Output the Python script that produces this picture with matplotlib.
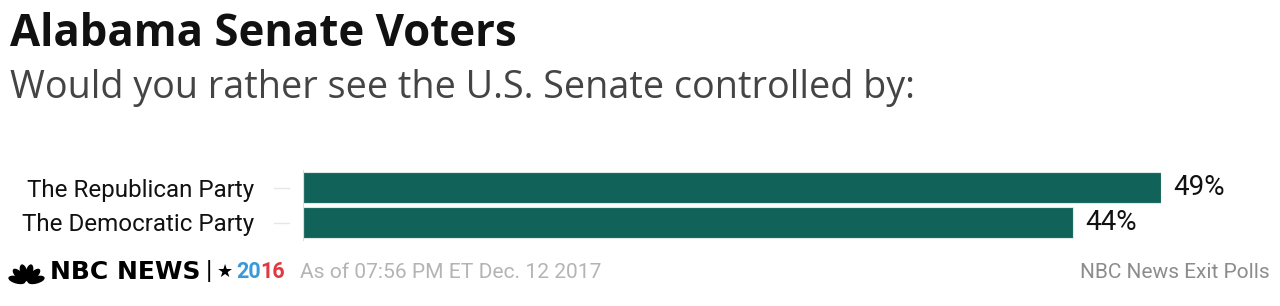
import numpy as np
import matplotlib.pyplot as plt
from matplotlib.patches import Ellipse

# Data
categories = ["The Republican Party", "The Democratic Party"]
values = [49, 44]
title = "Alabama Senate Voters"
subtitle = "Would you rather see the U.S. Senate controlled by:"
bar_color = "#11635a"

fig = plt.figure(figsize=(12.8, 3.06), dpi=100)

# bar axes: x 303..1161 px for 0..49, y 170..240 px
ax = fig.add_axes([303 / 1280, 1 - 240 / 306, 858 / 1280, 70 / 306])
ypos = list(range(len(categories)))
ax.barh(ypos, values, height=0.91, color=bar_color, edgecolor="#dfe9e7", linewidth=0.8)
ax.set_xlim(0, 49)
ax.set_ylim(len(categories) - 0.5, -0.5)
ax.set_yticks(ypos)
ax.set_yticklabels(categories, fontsize=17.4, family="Roboto", color="#111111")
ax.tick_params(axis="y", length=0, pad=35)
# short detached tick marks
for y in ypos:
    ax.plot([-29 / 858 * 49, -14 / 858 * 49], [y, y], color="#e6e6e6", lw=1,
            clip_on=False)
ax.set_xticks([])
for s in ["top", "right", "bottom"]:
    ax.spines[s].set_visible(False)
ax.spines["left"].set_color("#dddddd")
for y, v in zip(ypos, values):
    ax.text(v + 0.7, y, f"{v}%", va="center", ha="left", fontsize=20,
            family="Roboto", color="#111111")

# titles
fig.text(10 / 1280, 1 - 35 / 306, title, fontsize=31.5, fontweight="bold",
         va="center", ha="left", family="Open Sans", color="#111111")
fig.text(10 / 1280, 1 - 88 / 306, subtitle, fontsize=27.2, va="center", ha="left",
         family="Open Sans", color="#444444")

# footer
fy = 1 - 272 / 306
base = np.array([0.265, 0.235])
for ang in [165, 135, 105, 75, 45, 15]:
    r = np.deg2rad(ang)
    c = base + 0.10 * np.array([np.cos(r), np.sin(r)])
    fig.patches.append(Ellipse(tuple(c), 0.16, 0.06, angle=ang, color="black",
                               transform=fig.dpi_scale_trans))
fig.text(50 / 1280, fy, "NBC NEWS", fontsize=18, fontweight="bold", va="center",
         family="DejaVu Sans", color="black")
fig.text(206 / 1280, fy, "|", fontsize=19, va="center", family="Roboto", color="black")
fig.text(217 / 1280, fy, "★", fontsize=13, va="center", family="DejaVu Sans", color="black")
renderer = fig.canvas.get_renderer()
t20 = fig.text(236 / 1280, fy, "20", fontsize=15.5, fontweight="bold", va="center",
               family="Roboto", color="#3a9ad9")
x20 = fig.transFigure.inverted().transform(t20.get_window_extent(renderer))[1][0]
fig.text(x20, fy, "16", fontsize=15.5, fontweight="bold", va="center",
         family="Roboto", color="#e03a3e")
fig.text(300 / 1280, fy, "As of 07:56 PM ET Dec. 12 2017", fontsize=15.1, va="center",
         family="Roboto", color="#b4b4b4")
fig.text(1270 / 1280, fy, "NBC News Exit Polls", fontsize=15, va="center", ha="right",
         family="Roboto", color="#8c8c8c")

fig.savefig("out.png", dpi=100)
